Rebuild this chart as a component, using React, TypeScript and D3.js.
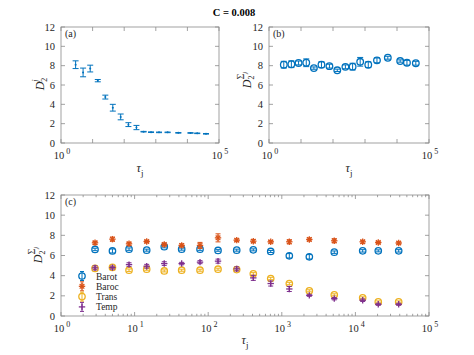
import React from 'react';
import * as d3 from 'd3';

const tau = [2.9, 5.0, 8.4, 14.6, 25.3, 43.6, 77.4, 136, 244, 410, 707, 1265, 2366, 5164, 12560, 20460, 38740];

const aVal = [8.1, 7.3, 7.7, 6.45, 4.75, 3.65, 2.7, 1.9, 1.6, 1.17, 1.12, 1.1, 1.1, 1.05, 1.04, 1.0, 0.95];
const aErr = [0.4, 0.45, 0.35, 0.12, 0.2, 0.35, 0.3, 0.2, 0.22, 0.03, 0.03, 0.03, 0.03, 0.03, 0.03, 0.03, 0.03];

const bVal = [8.1, 8.15, 8.28, 8.3, 7.75, 8.1, 7.95, 7.52, 7.88, 7.9, 8.4, 8.1, 8.55, 8.82, 8.48, 8.3, 8.25];
const bErr = [0.35, 0.35, 0.2, 0.4, 0.12, 0.3, 0.2, 0.12, 0.2, 0.35, 0.45, 0.3, 0.25, 0.15, 0.12, 0.25, 0.2];

const barotVal = [6.6, 6.45, 6.63, 6.53, 6.88, 6.63, 6.63, 6.5, 6.53, 6.56, 6.4, 5.97, 5.87, 6.33, 6.46, 6.46, 6.46];
const barotErr = [0.12, 0.2, 0.12, 0.1, 0.12, 0.1, 0.12, 0.08, 0.1, 0.1, 0.1, 0.22, 0.22, 0.12, 0.12, 0.1, 0.12];
const barocVal = [7.26, 7.62, 7.16, 7.39, 7.09, 7.0, 7.0, 7.75, 7.52, 7.42, 7.36, 7.36, 7.59, 7.46, 7.36, 7.29, 7.24];
const barocErr = [0.15, 0.2, 0.15, 0.12, 0.15, 0.15, 0.3, 0.4, 0.12, 0.15, 0.12, 0.2, 0.15, 0.2, 0.15, 0.12, 0.1];
const transVal = [4.72, 4.82, 4.54, 4.64, 4.47, 4.54, 4.54, 4.64, 4.6, 4.18, 3.72, 3.22, 2.5, 2.1, 1.8, 1.4, 1.4];
const transErr = [0.1, 0.1, 0.12, 0.1, 0.1, 0.1, 0.1, 0.1, 0.1, 0.12, 0.12, 0.12, 0.1, 0.1, 0.1, 0.1, 0.1];
const tempVal = [4.77, 4.8, 5.1, 4.94, 5.2, 5.2, 5.34, 5.44, 4.67, 3.78, 3.22, 2.68, 2.05, 1.72, 1.56, 1.16, 1.16];
const tempErr = [0.2, 0.15, 0.18, 0.18, 0.18, 0.12, 0.15, 0.2, 0.2, 0.25, 0.25, 0.25, 0.1, 0.12, 0.12, 0.1, 0.1];

const seriesNames = ['Barot', 'Baroc', 'Trans', 'Temp'];
const seriesColors = ['#0072BD', '#D95319', '#EDB120', '#7E2F8E'];
const seriesMarkers = ['o', '*', 'o', '+'];

const yTicks = [0, 2, 4, 6, 8, 10, 12];
const xDecades = [0, 1, 2, 3, 4, 5];

const FONT = '"Liberation Serif", "Times New Roman", serif';
const AX = '#8a8a8a';
const TXT = '#262626';

type Box = { x0: number; x1: number; y0: number; y1: number };

function Marker({ type, x, y, color, r = 3.3 }: any) {
  if (type === 'o') return <circle cx={x} cy={y} r={r} fill="none" stroke={color} strokeWidth={1.3} />;
  if (type === '.') return <circle cx={x} cy={y} r={1} fill={color} />;
  if (type === '+')
    return (
      <g stroke={color} strokeWidth={1.3}>
        <line x1={x - r} x2={x + r} y1={y} y2={y} />
        <line x1={x} x2={x} y1={y - r} y2={y + r} />
      </g>
    );
  const d = r * 0.72;
  return (
    <g stroke={color} strokeWidth={1.3}>
      <line x1={x - r} x2={x + r} y1={y} y2={y} />
      <line x1={x} x2={x} y1={y - r} y2={y + r} />
      <line x1={x - d} x2={x + d} y1={y - d} y2={y + d} />
      <line x1={x - d} x2={x + d} y1={y + d} y2={y - d} />
    </g>
  );
}

function ErrSeries({ xs, ys, vals, errs, color, marker, cap = 3, r = 3.3 }: any) {
  return (
    <g>
      {vals.map((v: number, i: number) => {
        const cx = xs(tau[i]);
        const lo = ys(v - errs[i]);
        const hi = ys(v + errs[i]);
        return (
          <g key={i}>
            <g stroke={color} strokeWidth={1}>
              <line x1={cx} x2={cx} y1={lo} y2={hi} />
              <line x1={cx - cap} x2={cx + cap} y1={lo} y2={lo} />
              <line x1={cx - cap} x2={cx + cap} y1={hi} y2={hi} />
            </g>
            <Marker type={marker} x={cx} y={ys(v)} color={color} r={r} />
          </g>
        );
      })}
    </g>
  );
}

function TenPow({ x, y, p }: any) {
  return (
    <text x={x} y={y} textAnchor="middle" fontFamily={FONT} fontSize={10.5} fill={TXT}>
      10<tspan dx={2} dy={-5} fontSize={8}>{p}</tspan>
    </text>
  );
}

function Axes({ b, xs, ys, minor, label }: any) {
  const tl = 4;
  const mt = 2.2;
  const minors: number[] = [];
  if (minor) {
    for (let d = 0; d < 5; d++) for (let k = 2; k <= 9; k++) minors.push(k * Math.pow(10, d));
  }
  return (
    <g>
      <rect x={b.x0} y={b.y0} width={b.x1 - b.x0} height={b.y1 - b.y0} fill="white" stroke={AX} strokeWidth={0.8} />
      <g stroke={AX} strokeWidth={0.8}>
        {yTicks.map((t) => (
          <g key={'y' + t}>
            <line x1={b.x0} x2={b.x0 + tl} y1={ys(t)} y2={ys(t)} />
            <line x1={b.x1} x2={b.x1 - tl} y1={ys(t)} y2={ys(t)} />
          </g>
        ))}
        {xDecades.map((d) => (
          <g key={'x' + d}>
            <line x1={xs(Math.pow(10, d))} x2={xs(Math.pow(10, d))} y1={b.y1} y2={b.y1 - tl} />
            <line x1={xs(Math.pow(10, d))} x2={xs(Math.pow(10, d))} y1={b.y0} y2={b.y0 + tl} />
          </g>
        ))}
        {minors.map((m) => (
          <g key={'m' + m}>
            <line x1={xs(m)} x2={xs(m)} y1={b.y1} y2={b.y1 - mt} />
            <line x1={xs(m)} x2={xs(m)} y1={b.y0} y2={b.y0 + mt} />
          </g>
        ))}
      </g>
      {yTicks.map((t) => (
        <text key={'yl' + t} x={b.x0 - 6} y={ys(t) + 3.6} textAnchor="end" fontFamily={FONT} fontSize={10.5} fill={TXT}>
          {t}
        </text>
      ))}
      {xDecades
        .filter((d) => minor || d === 0 || d === 5)
        .map((d) => (
          <TenPow key={'xl' + d} x={xs(Math.pow(10, d)) + 1} y={b.y1 + 16} p={d} />
        ))}
      <text x={b.x0 + 4} y={b.y0 + 10} fontFamily={FONT} fontSize={10} fill={TXT}>
        {label}
      </text>
    </g>
  );
}

function TauLabel({ x, y }: any) {
  return (
    <text x={x} y={y} textAnchor="middle" fontFamily={FONT} fontSize={12} fill={TXT}>
      <tspan fontStyle="italic">τ</tspan>
      <tspan dy={3.5} fontSize={9}>j</tspan>
    </text>
  );
}

function YLabel({ x, y, sigma }: any) {
  return (
    <text transform={`translate(${x},${y}) rotate(-90)`} textAnchor="middle" fontFamily={FONT} fontSize={12} fill={TXT}>
      <tspan fontStyle="italic">D</tspan>
      <tspan dy={3} fontSize={8}>2</tspan>
      {sigma ? (
        <>
          <tspan dx={-4} dy={-10} fontSize={10}>Σ</tspan>
          <tspan dy={2.5} fontSize={6.5} fontStyle="italic">j</tspan>
        </>
      ) : (
        <tspan dx={-4} dy={-9} fontSize={8} fontStyle="italic">j</tspan>
      )}
    </text>
  );
}

export default function App() {
  const A: Box = { x0: 61, x1: 219, y0: 27, y1: 143 };
  const B: Box = { x0: 269, x1: 429, y0: 27, y1: 143 };
  const C: Box = { x0: 61, x1: 429, y0: 195, y1: 316 };

  const xA = d3.scaleLog().domain([1, 1e5]).range([A.x0, A.x1]);
  const yA = d3.scaleLinear().domain([0, 12]).range([A.y1, A.y0]);
  const xB = d3.scaleLog().domain([1, 1e5]).range([B.x0, B.x1]);
  const yB = d3.scaleLinear().domain([0, 12]).range([B.y1, B.y0]);
  const xC = d3.scaleLog().domain([1, 1e5]).range([C.x0, C.x1]);
  const yC = d3.scaleLinear().domain([0, 12]).range([C.y1, C.y0]);

  const cVals = [barotVal, barocVal, transVal, tempVal];
  const cErrs = [barotErr, barocErr, transErr, tempErr];

  return (
    <svg width={474} height={355} style={{ position: 'absolute', left: 0, top: 0, background: 'white' }}>
      <rect x={0} y={0} width={474} height={355} fill="white" />
      <text x={234} y={16} textAnchor="middle" fontFamily={FONT} fontSize={10.5} fontWeight="bold" fill="#000">
        C = 0.008
      </text>

      <Axes b={A} xs={xA} ys={yA} minor={false} label="(a)" />
      <ErrSeries xs={xA} ys={yA} vals={aVal} errs={aErr} color="#0072BD" marker="." cap={3} />
      <TauLabel x={140} y={172} />
      <YLabel x={44} y={84} sigma={false} />

      <Axes b={B} xs={xB} ys={yB} minor={false} label="(b)" />
      <ErrSeries xs={xB} ys={yB} vals={bVal} errs={bErr} color="#0072BD" marker="o" cap={3} r={3.3} />
      <TauLabel x={349} y={172} />
      <YLabel x={251} y={80} sigma={true} />

      <Axes b={C} xs={xC} ys={yC} minor={true} label="(c)" />
      {cVals.map((vals, k) => (
        <ErrSeries key={k} xs={xC} ys={yC} vals={vals} errs={cErrs[k]} color={seriesColors[k]} marker={seriesMarkers[k]} cap={2.5} r={3.2} />
      ))}
      <TauLabel x={245} y={344} />
      <YLabel x={42} y={255} sigma={true} />

      {seriesNames.map((n, k) => {
        const ly = 276 + k * 10.3;
        return (
          <g key={n}>
            <g stroke={seriesColors[k]} strokeWidth={1}>
              <line x1={82} x2={82} y1={ly - 4.5} y2={ly + 4.5} />
              <line x1={80} x2={84} y1={ly - 4.5} y2={ly - 4.5} />
              <line x1={80} x2={84} y1={ly + 4.5} y2={ly + 4.5} />
            </g>
            <Marker type={seriesMarkers[k]} x={82} y={ly} color={seriesColors[k]} r={3.2} />
            <text x={96} y={ly + 3.5} fontFamily={FONT} fontSize={9.5} fill={TXT}>
              {n}
            </text>
          </g>
        );
      })}
    </svg>
  );
}
